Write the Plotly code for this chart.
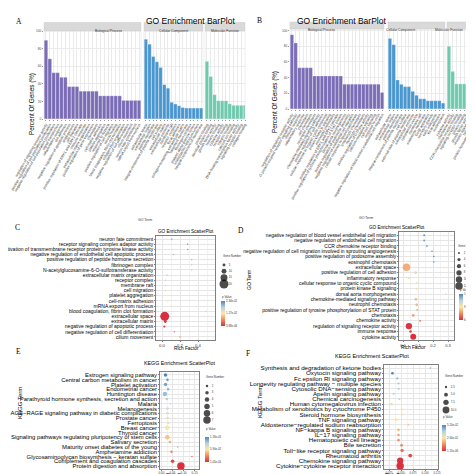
import plotly.graph_objects as go

W = H = 474
FONT = "Liberation Sans"
SERIF = "Liberation Serif"

# ---------------- A : GO bar plot ----------------
A_BP_TERMS = [
    "regulation of signaling receptor activity",
    "positive regulation of cell population proliferation",
    "negative regulation of cell population proliferation",
    "signal transduction", "inflammatory response", "cell adhesion",
    "negative regulation of apoptotic process", "angiogenesis", "cell migration",
    "positive regulation of ERK1 and ERK2 cascade", "immune response",
    "extracellular matrix organization", "positive regulation of gene expression",
    "chemotaxis", "cell-matrix adhesion", "platelet aggregation", "response to hypoxia",
    "positive regulation of cell migration", "wound healing",
    "blood coagulation, fibrin clot formation", "collagen fibril organization",
    "negative regulation of cell differentiation", "cilium movement",
    "neuron fate commitment", "mRNA export from nucleus",
]
A_BP_PCT = [89.5, 68.4, 52.6, 52.6, 47.4, 47.4, 36.8, 36.8, 36.8,
            31.6, 31.6, 31.6, 31.6, 31.6, 26.3, 26.3, 26.3, 26.3, 26.3, 26.3,
            21.1, 21.1, 21.1, 21.1, 21.1]
A_CC_TERMS = [
    "extracellular space", "extracellular region", "plasma membrane",
    "integral component of plasma membrane", "cell surface", "extracellular matrix",
    "extracellular exosome", "membrane raft", "receptor complex", "focal adhesion",
    "collagen-containing extracellular matrix", "basement membrane",
    "fibrinogen complex", "platelet alpha granule lumen",
    "endoplasmic reticulum lumen", "integral component of membrane",
]
A_CC_PCT = [90.6, 85.0, 71.0, 65.0, 58.5, 39.0, 35.0, 19.0, 17.0, 15.0, 13.0,
            12.4, 12.4, 12.4, 12.4, 12.4]
A_MF_TERMS = [
    "protein binding", "identical protein binding", "growth factor activity",
    "heparin binding", "cytokine activity", "receptor binding", "integrin binding",
    "calcium ion binding", "DNA-binding transcription factor activity",
    "signaling receptor binding", "collagen binding",
]
A_MF_PCT = [65.5, 48.3, 27.6, 20.7, 20.7, 20.7, 17.2, 15.5, 15.5, 15.5, 15.5]

# ---------------- B : GO bar plot ----------------
B_BP_TERMS = [
    "regulation of signaling receptor activity",
    "G protein-coupled receptor signaling pathway", "immune response",
    "inflammatory response", "chemotaxis", "cell chemotaxis", "neutrophil chemotaxis",
    "chemokine-mediated signaling pathway", "positive regulation of cell adhesion",
    "cellular response to organic cyclic compound", "protein kinase B signaling",
    "eosinophil chemotaxis", "positive regulation of ERK1 and ERK2 cascade",
    "positive regulation of tyrosine phosphorylation of STAT protein",
    "dorsal aorta morphogenesis", "positive regulation of podosome assembly",
    "negative regulation of endothelial cell migration",
    "cellular response to lipopolysaccharide", "lymphocyte chemotaxis",
    "monocyte chemotaxis", "positive regulation of GTPase activity",
    "calcium-mediated signaling", "cell-cell signaling", "response to virus",
    "negative regulation of blood vessel endothelial cell migration",
]
B_BP_PCT = [94.7, 84.2] + [52.6] * 4 + [42.1] * 8 + [31.6] * 10 + [21.1]
B_CC_TERMS = [
    "extracellular space", "extracellular region", "plasma membrane",
    "integral component of plasma membrane", "cell surface",
    "external side of plasma membrane", "extracellular exosome",
    "cytoplasmic vesicle", "membrane raft", "endosome membrane", "Golgi apparatus",
    "secretory granule", "early endosome", "focal adhesion", "nucleoplasm",
]
B_CC_PCT = [90.0, 82.0, 37.0, 31.5, 28.5, 28.5, 22.5, 17.5, 13.0, 13.0,
            10.5, 10.5, 10.5, 10.5, 7.5]
B_MF_TERMS = [
    "cytokine activity", "chemokine activity", "CCR chemokine receptor binding",
    "signaling receptor binding", "protein binding", "growth factor activity",
    "receptor ligand activity", "heparin binding",
    "protein homodimerization activity", "CXCR chemokine receptor binding",
]
B_MF_PCT = [80.0, 48.0, 32.0, 32.0, 32.0, 32.0, 27.0, 27.0, 27.0, 27.0]

# ---------------- C : GO scatter ----------------
C_TERMS = [
    "neuron fate commitment", "receptor signaling complex adaptor activity",
    "activation of transmembrane receptor protein tyrosine kinase activity",
    "negative regulation of endothelial cell apoptotic process",
    "positive regulation of peptide hormone secretion", "fibrinogen complex",
    "N-acetylglucosamine-6-O-sulfotransferase activity",
    "extracellular matrix organization", "receptor complex", "membrane raft",
    "cell migration", "platelet aggregation", "cell-matrix adhesion",
    "mRNA export from nucleus", "blood coagulation, fibrin clot formation",
    "extracellular space", "extracellular matrix",
    "negative regulation of apoptotic process",
    "negative regulation of cell differentiation", "cilium movement",
]
C_RICH = [0.11, 0.285, 0.285, 0.125, 0.33, 0.33, 0.33, 0.055, 0.04, 0.04,
          0.04, 0.10, 0.063, 0.10, 0.49, 0.03, 0.037, 0.026, 0.137, 0.20]
C_GENES = [1, 1, 1, 1, 1, 1, 1, 2, 2, 2, 2, 1, 2, 1, 1, 20, 5, 3, 1, 1]
C_PVAL = [0.0234, 0.0225, 0.0215, 0.0205, 0.0195, 0.0185, 0.0175, 0.016, 0.0145,
          0.014, 0.0135, 0.013, 0.012, 0.011, 0.0095, 3.88e-06, 0.0004, 0.0012,
          0.004, 0.005]
C_BREAKS = [5, 10, 15, 20]
C_BREAK_LABELS = ["5", "10", "15", "20"]

# ---------------- D : GO scatter ----------------
D_TERMS = [
    "negative regulation of blood vessel endothelial cell migration",
    "negative regulation of endothelial cell migration",
    "CCR chemokine receptor binding",
    "negative regulation of cell migration involved in sprouting angiogenesis",
    "positive regulation of podosome assembly", "eosinophil chemotaxis",
    "extracellular space", "positive regulation of cell adhesion",
    "inflammatory response", "cellular response to organic cyclic compound",
    "protein kinase B signaling", "dorsal aorta morphogenesis",
    "chemokine-mediated signaling pathway", "neutrophil chemotaxis",
    "positive regulation of tyrosine phosphorylation of STAT protein",
    "chemotaxis", "chemokine activity", "regulation of signaling receptor activity",
    "immune response", "cytokine activity",
]
D_RICH = [0.141, 0.141, 0.159, 0.193, 0.205, 0.205, 0.023, 0.084, 0.039, 0.091,
          0.091, 0.284, 0.086, 0.091, 0.095, 0.068, 0.114, 0.039, 0.05, 0.068]
D_GENES = [2, 2, 2, 1, 1, 1, 12, 3, 3, 2, 2, 1, 3, 3, 2, 3, 2, 10, 3, 9]
D_PVAL = [0.0185, 0.018, 0.0175, 0.0198, 0.0195, 0.019, 0.0068, 0.0125, 0.0105,
          0.0115, 0.0112, 0.0125, 0.0075, 0.0072, 0.007, 0.006, 0.0045, 0.0004,
          0.0012, 6.12e-06]
D_BREAKS = [2, 4, 6, 8, 10, 12]
D_BREAK_LABELS = ["2", "4", "6", "8", "10", "12"]

# ---------------- E : KEGG scatter ----------------
E_TERMS = [
    "Estrogen signaling pathway", "Central carbon metabolism in cancer",
    "Platelet activation", "Endometrial cancer", "Huntington disease",
    "Parathyroid hormone synthesis, secretion and action", "Malaria",
    "Melanogenesis", "AGE\u2212RAGE signaling pathway in diabetic complications",
    "Prostate cancer", "Ferroptosis", "Breast cancer", "Thyroid cancer",
    "Signaling pathways regulating pluripotency of stem cells", "Salivary secretion",
    "Maturity onset diabetes of the young", "Amphetamine addiction",
    "Glycosaminoglycan biosynthesis \u2212 keratan sulfate",
    "Complement and coagulation cascades", "Protein digestion and absorption",
]
E_RICH = [0.018, 0.027, 0.018, 0.030, 0.015, 0.024, 0.041, 0.027, 0.027, 0.027,
          0.030, 0.026, 0.045, 0.026, 0.038, 0.073, 0.045, 0.138, 0.050, 0.088]
E_GENES = [3, 2, 3, 2, 4, 2, 1, 2, 2, 2, 2, 4, 1, 4, 2, 1, 2, 1, 3, 7]
E_PVAL = [0.118, 0.112, 0.106, 0.1, 0.096, 0.09, 0.086, 0.08, 0.075, 0.07,
          0.066, 0.062, 0.056, 0.047, 0.04, 0.035, 0.03, 0.022, 0.008, 1.05e-05]
E_BREAKS = [2, 3, 4, 5, 6, 7]
E_BREAK_LABELS = ["2", "3", "4", "5", "6", "7"]

# ---------------- F : KEGG scatter ----------------
F_TERMS = [
    "Synthesis and degradation of ketone bodies", "Oxytocin signaling pathway",
    "Fc epsilon RI signaling pathway",
    "Longevity regulating pathway \u2212 multiple species",
    "Cytosolic DNA\u2212sensing pathway", "Apelin signaling pathway",
    "Chemical carcinogenesis", "Human cytomegalovirus infection",
    "Metabolism of xenobiotics by cytochrome P450", "Steroid hormone biosynthesis",
    "TNF signaling pathway", "Aldosterone\u2212regulated sodium reabsorption",
    "NF\u2212kappa B signaling pathway", "IL\u221217 signaling pathway",
    "Hematopoietic cell lineage", "Bile secretion",
    "Toll\u2212like receptor signaling pathway", "Rheumatoid arthritis",
    "Chemokine signaling pathway", "Cytokine\u2212cytokine receptor interaction",
]
F_RICH = [0.111, 0.032, 0.042, 0.0446, 0.045, 0.0345, 0.0466, 0.0297, 0.052, 0.053,
          0.040, 0.065, 0.0446, 0.0446, 0.0446, 0.051, 0.052, 0.069, 0.048, 0.048]
F_GENES = [1, 3, 2, 2, 2, 2, 2, 3, 2, 2, 3, 2, 3, 3, 3, 3, 4, 5, 9, 11]
F_PVAL = [0.045, 0.052, 0.044, 0.041, 0.04, 0.038, 0.036, 0.03, 0.028, 0.027,
          0.025, 0.022, 0.019, 0.017, 0.015, 0.012, 0.009, 0.004, 0.0005, 1.15e-06]
F_BREAKS = [2.5, 5.0, 7.5, 10.0]
F_BREAK_LABELS = ["2.5", "5.0", "7.5", "10.0"]

PCOLORS = [[0, "#d7303f"], [0.25, "#ef8a5c"], [0.5, "#fbe8a6"],
           [0.75, "#b7d1dd"], [1, "#4d86b8"]]


def dom_x(a, b):
    return [a / W, b / W]


def dom_y(top, bottom):
    return [1 - bottom / H, 1 - top / H]


fig = go.Figure()
layout = {}
annos = []
shapes = []
n_ax = [0]


def new_axes(xdom, ydom, xopts, yopts):
    n_ax[0] += 1
    s = "" if n_ax[0] == 1 else str(n_ax[0])
    layout["xaxis" + s] = dict(domain=xdom, anchor="y" + s, **xopts)
    layout["yaxis" + s] = dict(domain=ydom, anchor="x" + s, **yopts)
    return "x" + s, "y" + s


def text(x, y, s, size, color="black", family=FONT, **kw):
    annos.append(dict(x=x / W, y=1 - y / H, xref="paper", yref="paper", text=s,
                      showarrow=False, font=dict(family=family, size=size, color=color), **kw))


def bar_facet(terms, pct, color, strip, x0, x1, top, bottom, strip_top, first, ymax, n_show=None):
    xr = [-0.5, (len(terms) if n_show is None else n_show) - 0.5]
    xa, ya = new_axes(
        dom_x(x0, x1), dom_y(top, bottom),
        dict(type="category", range=xr, tickmode="array", tickvals=terms, tickangle=-60,
             tickfont=dict(family=FONT, size=3.6, color="#333"), showgrid=True,
             gridcolor="#ebebeb", gridwidth=0.5, showline=False, ticks="outside",
             ticklen=1, tickwidth=0.3, tickcolor="#999", zeroline=False),
        dict(range=[0, ymax], tickvals=[0, 20, 40, 60, 80, 100], showticklabels=first,
             tickfont=dict(family=FONT, size=3.2, color="#4d4d4d"), showgrid=True,
             gridcolor="#ebebeb", gridwidth=0.5, zeroline=False,
             ticks="outside" if first else "", ticklen=1, tickwidth=0.3, tickcolor="#999",
             showline=False))
    fig.add_trace(go.Bar(x=terms, y=pct, xaxis=xa, yaxis=ya, width=0.92,
                         marker=dict(color=color, line=dict(color="white", width=0.25))))
    shapes.append(dict(type="rect", xref="paper", yref="paper", x0=x0 / W, x1=x1 / W,
                       y0=1 - top / H, y1=1 - strip_top / H, fillcolor="#d9d9d9",
                       line=dict(color="#c4c4c4", width=0.4)))
    shapes.append(dict(type="rect", xref="paper", yref="paper", x0=x0 / W, x1=x1 / W,
                       y0=1 - bottom / H, y1=1 - top / H, line=dict(color="#d6d6d6", width=0.4)))
    text((x0 + x1) / 2, (strip_top + top) / 2, strip, 3.3, color="#333")


def size_fn(vals, genes, dmin, dmax):
    lo, hi = min(genes), max(genes)
    return [dmin + (dmax - dmin) * max(0, (v - lo) / (hi - lo)) for v in vals]


def scatter_panel(p):
    terms = p["terms"]
    n = len(terms)
    grid = dict(showgrid=True, gridcolor="#e6e6e6", gridwidth=0.5, showline=True, mirror=True,
                linecolor="#808080", linewidth=0.5, ticks="outside", ticklen=1.0,
                tickwidth=0.4, tickcolor="#808080", zeroline=False)
    xa, ya = new_axes(
        dom_x(p["x0"], p["x1"]), dom_y(p["top"], p["bottom"]),
        dict(range=p["xrange"], tickmode="array", tickvals=p["xticks"], tickformat=p["fmt"],
             tickfont=dict(family=FONT, size=p["xts"], color="#333"),
             minor=dict(tickmode="linear", tick0=0, dtick=p["minor"], showgrid=True,
                        gridcolor="#f3f3f3", gridwidth=0.3), **grid),
        dict(type="category", categoryorder="array", categoryarray=terms[::-1],
             range=[-0.6, n - 0.4], tickmode="array", tickvals=terms,
             tickfont=dict(family=FONT, size=p["yts"], color="black"), **grid))
    pv = p["pval"]
    lo, hi = min(pv), max(pv)
    cb = dict(x=p["cb_x"] / W, xanchor="left", y=1 - p["cb_top"] / H, yanchor="top",
              len=(p["cb_bottom"] - p["cb_top"]) / H, lenmode="fraction", thickness=3.5,
              thicknessmode="pixels", outlinewidth=0, xpad=0, ypad=0, ticks="",
              tickvals=[lo, (lo + hi) / 2, hi],
              ticktext=["{:.2e}".format(v) for v in [lo, (lo + hi) / 2, hi]],
              tickfont=dict(family=FONT, size=2.8, color="#333"))
    fig.add_trace(go.Scatter(
        x=p["rich"], y=terms, mode="markers", xaxis=xa, yaxis=ya,
        marker=dict(size=size_fn(p["genes"], p["genes"], p["dmin"], p["dmax"]), color=pv,
                    colorscale=PCOLORS, cmin=lo, cmax=hi, colorbar=cb, opacity=1,
                    line=dict(width=0))))
    # size key
    nb = len(p["breaks"])
    kx, ky = new_axes(dom_x(p["key_x"] - 3, p["key_x"] + 21), dom_y(p["key_top"], p["key_bottom"]),
                      dict(range=[-1, 7], visible=False), dict(range=[nb - 1, 0], visible=False))
    pos = list(range(nb))
    fig.add_trace(go.Scatter(x=[0] * nb, y=pos, xaxis=kx, yaxis=ky, mode="markers",
                             cliponaxis=False,
                             marker=dict(color="black", line=dict(width=0),
                                         size=size_fn(p["breaks"], p["genes"], p["dmin"], p["dmax"]))))
    fig.add_trace(go.Scatter(x=[1.6] * nb, y=pos, xaxis=kx, yaxis=ky, mode="text",
                             cliponaxis=False, text=p["blabels"], textposition="middle right",
                             textfont=dict(family=FONT, size=2.8, color="#333")))
    text(p["key_x"] - 3, p["key_title_y"], "Gene Number", 2.9, color="#333", xanchor="left")
    text(p["cb_x"] - 1, p["cb_top"] - 4, "p Value", 2.9, color="#333", xanchor="left")
    cx = (p["x0"] + p["x1"]) / 2
    text(cx, p["top"] - 4.5, p["title"], p["tsize"])
    text(p["rf_x"], p["rf_y"], "Rich Factor", p["rfs"])


# ---- A ----
bar_facet(A_BP_TERMS, A_BP_PCT, "#7b6cb6", "Biological Process", 36, 133, 23, 111, 14.5, True, 100)
bar_facet(A_CC_TERMS, A_CC_PCT, "#4a96cf", "Cellular Component", 136, 195, 23, 111, 14.5, False, 100)
bar_facet(A_MF_TERMS, A_MF_PCT, "#6fcaad", "Molecular Function", 197, 237, 23, 111, 14.5, False, 100, 10.5)
# ---- B ----
bar_facet(B_BP_TERMS, B_BP_PCT, "#7b6cb6", "Biological Process", 282, 376, 21, 101, 14, True, 102)
bar_facet(B_CC_TERMS, B_CC_PCT, "#4a96cf", "Cellular Component", 380, 437, 21, 101, 14, False, 102)
bar_facet(B_MF_TERMS, B_MF_PCT, "#6fcaad", "Molecular Function", 439, 474, 21, 101, 14, False, 102, 9.2)

text(136, 6, "GO Enrichment BarPlot", 8.5)
text(380, 6, "GO Enrichment BarPlot", 8.5)
text(18, 63, "Percent Of Genes (%)", 6.3, textangle=-90)
text(267, 61, "Percent Of Genes (%)", 6.3, textangle=-90)
text(128, 212, "GO Term", 3.5, color="#333")
text(367, 210, "GO Term", 3.5, color="#333")

# ---- C, D, E, F ----
scatter_panel(dict(terms=C_TERMS, rich=C_RICH, genes=C_GENES, pval=C_PVAL, breaks=C_BREAKS,
                   blabels=C_BREAK_LABELS, x0=148, x1=207, top=228, bottom=332,
                   xrange=[-0.067, 0.589], xticks=[0, 0.2, 0.4], fmt=".1f", minor=0.1,
                   xts=4.2, yts=5.0, dmin=1.3, dmax=9, title="GO Enrichment ScatterPlot",
                   tsize=4.6, rf_x=178, rf_y=345, rfs=4.8, key_x=216, key_top=257,
                   key_bottom=276, key_title_y=248, cb_x=213, cb_top=293, cb_bottom=318))
scatter_panel(dict(terms=D_TERMS, rich=D_RICH, genes=D_GENES, pval=D_PVAL, breaks=D_BREAKS,
                   blabels=D_BREAK_LABELS, x0=391, x1=446, top=224, bottom=332,
                   xrange=[-0.027, 0.34], xticks=[0, 0.1, 0.2, 0.3], fmt=".1f", minor=0.05,
                   xts=4.0, yts=4.9, dmin=1.5, dmax=7.5, title="GO Enrichment ScatterPlot",
                   tsize=4.6, rf_x=420, rf_y=344, rfs=4.8, key_x=451, key_top=245,
                   key_bottom=278, key_title_y=238, cb_x=451, cb_top=286, cb_bottom=312))
scatter_panel(dict(terms=E_TERMS, rich=E_RICH, genes=E_GENES, pval=E_PVAL, breaks=E_BREAKS,
                   blabels=E_BREAK_LABELS, x0=152, x1=191, top=364, bottom=461,
                   xrange=[-0.007, 0.170], xticks=[0, 0.05, 0.1, 0.15], fmt=".2f", minor=0.025,
                   xts=3.1, yts=5.9, dmin=1.5, dmax=7.5, title="KEGG Enrichment ScatterPlot",
                   tsize=5.3, rf_x=171, rf_y=471.5, rfs=5.0, key_x=199, key_top=378,
                   key_bottom=412, key_title_y=373, cb_x=197, cb_top=429, cb_bottom=454))
scatter_panel(dict(terms=F_TERMS, rich=F_RICH, genes=F_GENES, pval=F_PVAL, breaks=F_BREAKS,
                   blabels=F_BREAK_LABELS, x0=376, x1=430, top=357, bottom=461,
                   xrange=[0.0143, 0.127], xticks=[0.025, 0.05, 0.075, 0.1, 0.125], fmt=".3f",
                   minor=0.0125, xts=2.8, yts=6.2, dmin=1.5, dmax=7.5,
                   title="KEGG Enrichment ScatterPlot", tsize=5.5, rf_x=405, rf_y=471.5, rfs=5.0,
                   key_x=438, key_top=379, key_bottom=402, key_title_y=372, cb_x=434,
                   cb_top=417, cb_bottom=443))

text(241, 272, "GO Term", 5, textangle=-90)
text(7, 413, "KEGG Term", 6, textangle=-90)
text(252, 412, "KEGG Term", 6, textangle=-90)

# panel letters
for lab, lx, ly in [("A", 6, 7), ("B", 252, 6), ("C", 5, 219), ("D", 233, 222),
                    ("E", 6, 350), ("F", 240, 352)]:
    text(lx, ly, lab, 7.5, family=SERIF)

fig.update_layout(
    template="none", width=W, height=H, margin=dict(l=0, r=0, t=0, b=0),
    paper_bgcolor="white", plot_bgcolor="white", showlegend=False,
    annotations=annos, shapes=shapes, **layout)
fig.write_html("out.html")
